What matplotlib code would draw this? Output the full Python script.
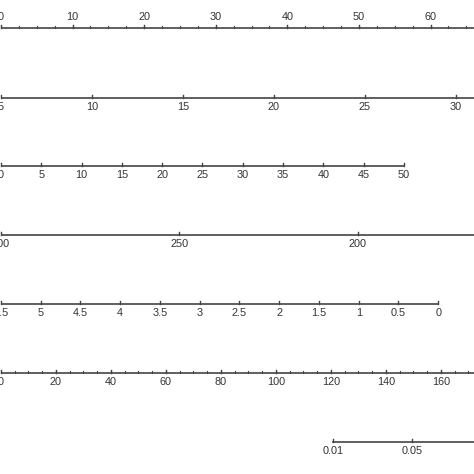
import numpy as np
import matplotlib.pyplot as plt

plt.rcParams["font.family"] = ["Liberation Sans", "DejaVu Sans"]

# Nomogram axes (cropped): tick values per scale
points_major = [0, 10, 20, 30, 40, 50, 60]
points_minor = np.arange(0, 67.5, 2.5)
row2_major = [5, 10, 15, 20, 25, 30]
row3_major = [0, 5, 10, 15, 20, 25, 30, 35, 40, 45, 50]
row4_major = [300, 250, 200]
row5_major = [5.5, 5, 4.5, 4, 3.5, 3, 2.5, 2, 1.5, 1, 0.5, 0]
row6_major = [0, 20, 40, 60, 80, 100, 120, 140, 160]
row6_minor = np.arange(0, 175, 5)
row7_major = [0.01, 0.05]
row7_pos = [333, 412]  # nonlinear probability scale, read positions


def fmt(v):
    return f"{v:g}"


def draw_scale(ax, y, vals, x0, v0, slope, x_end, labels_above=False,
               minor=None):
    xs = [x0 + (v - v0) * slope for v in vals]
    ax.plot([min(xs + [x_end]), x_end], [y, y], color="#444444", lw=1.2,
            solid_capstyle="butt")
    for x, v in zip(xs, vals):
        ax.plot([x, x], [y, y - 3.5], color="#444444", lw=1.0)
        if labels_above:
            ax.text(x, y - 6, fmt(v), ha="center", va="bottom", fontsize=7.8,
                    color="#333333")
        else:
            ax.text(x, y + 4, fmt(v), ha="center", va="top", fontsize=7.8,
                    color="#333333")
    if minor is not None:
        for v in minor:
            x = x0 + (v - v0) * slope
            if x <= 474:
                ax.plot([x, x], [y, y - 2], color="#444444", lw=0.8)


fig = plt.figure(figsize=(4.74, 4.74), dpi=100)
ax = fig.add_axes([0, 0, 1, 1])
ax.set_xlim(0, 474)
ax.set_ylim(474, 0)
ax.axis("off")

draw_scale(ax, 28, points_major, 1, 0, 7.16, 474, labels_above=True,
           minor=points_minor)
draw_scale(ax, 98, row2_major, 1, 5, 18.2, 474)
draw_scale(ax, 166, row3_major, 1, 0, 8.06, 404)
draw_scale(ax, 235, row4_major, 1, 300, -3.57, 474)
draw_scale(ax, 304, row5_major, 1, 5.5, -79.5, 438)
draw_scale(ax, 373, row6_major, 1, 0, 2.75, 474, minor=row6_minor)

# probability scale
y = 442
ax.plot([row7_pos[0], 474], [y, y], color="#444444", lw=1.2)
for x, v in zip(row7_pos, row7_major):
    ax.plot([x, x], [y, y - 3.5], color="#444444", lw=1.0)
    ax.text(x, y + 4, fmt(v), ha="center", va="top", fontsize=7.8,
            color="#333333")

fig.savefig("out.png", dpi=100)
